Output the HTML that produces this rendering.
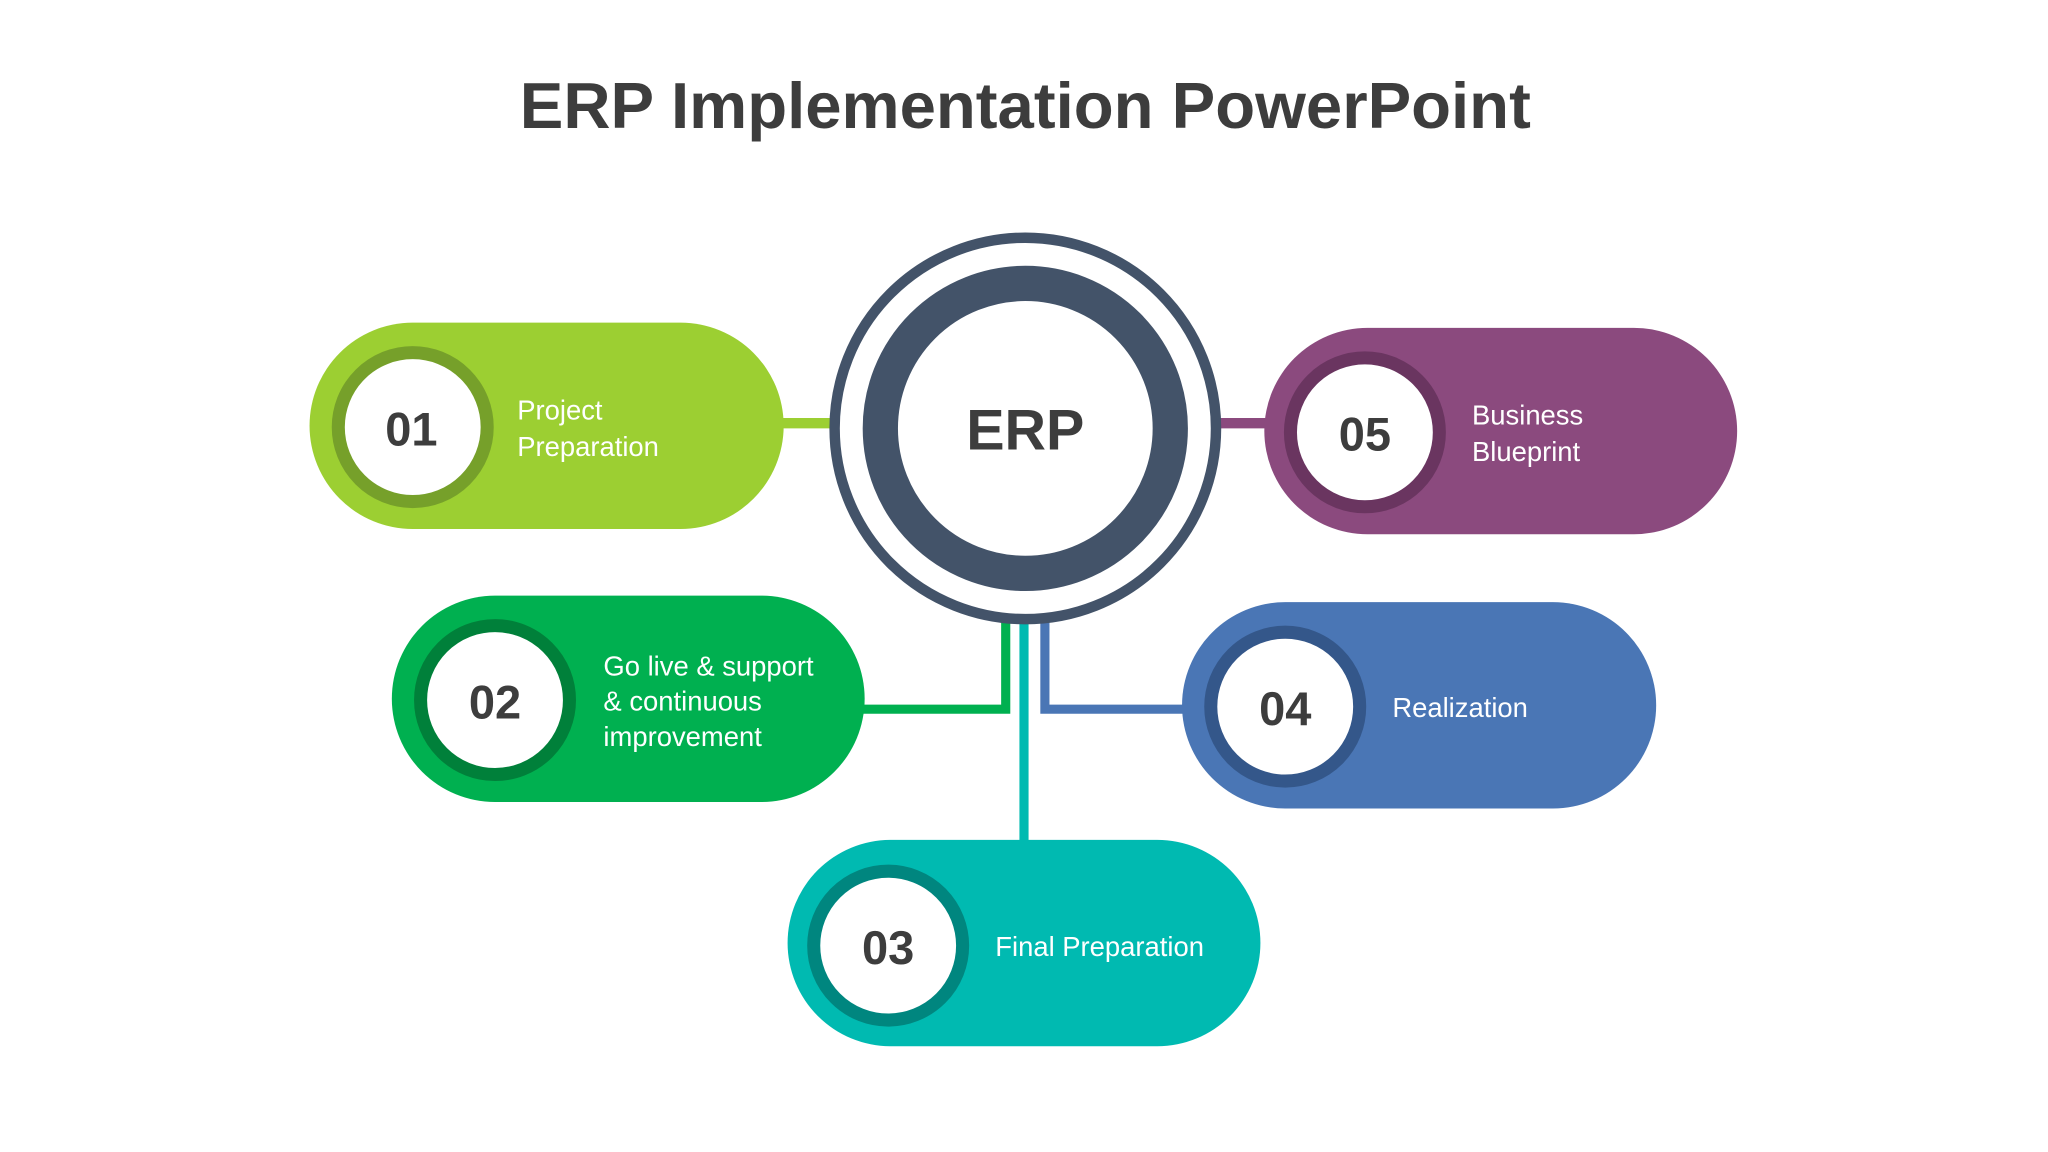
<!DOCTYPE html>
<html><head><meta charset="utf-8"><style>
html,body{margin:0;padding:0;background:#fff;}
svg{display:block;}
text{font-family:"Liberation Sans","DejaVu Sans",sans-serif;}
</style></head><body>
<svg width="2048" height="1152" viewBox="0 0 1568 882" xmlns="http://www.w3.org/2000/svg">
<rect width="1568" height="882" fill="#fff"/>
<text x="785" y="98" text-anchor="middle" font-size="50" font-weight="bold" fill="#3d3d3d">ERP Implementation PowerPoint</text>

<!-- connectors -->
<line x1="595" y1="324" x2="640" y2="324" stroke="#9ccf32" stroke-width="8"/>
<line x1="928" y1="324" x2="972" y2="324" stroke="#8b4a7e" stroke-width="8"/>
<polyline points="660,543 770,543 770,470" fill="none" stroke="#00b050" stroke-width="7"/>
<line x1="784" y1="470" x2="784" y2="648" stroke="#00bab1" stroke-width="7"/>
<polyline points="910,543 800,543 800,470" fill="none" stroke="#4a76b5" stroke-width="7"/>

<!-- center -->
<circle cx="785" cy="328" r="146" fill="#fff" stroke="#435369" stroke-width="8"/>
<circle cx="785" cy="328" r="111" fill="#fff" stroke="#435369" stroke-width="27"/>
<text x="785" y="344" text-anchor="middle" font-size="44" font-weight="bold" fill="#3d3d3d">ERP</text>

<!-- 01 -->
<rect x="237" y="247" width="363" height="158" rx="79" fill="#9ccf32"/>
<circle cx="316" cy="327" r="57" fill="#fff" stroke="#76a02a" stroke-width="10"/>
<text x="315" y="341" text-anchor="middle" font-size="36" font-weight="bold" fill="#3d3d3d">01</text>
<text x="396" y="321" font-size="21" fill="#fff">Project</text>
<text x="396" y="349" font-size="21" fill="#fff">Preparation</text>

<!-- 05 -->
<rect x="968" y="251" width="362" height="158" rx="79" fill="#8b4a7e"/>
<circle cx="1045" cy="331" r="57" fill="#fff" stroke="#6a3560" stroke-width="10"/>
<text x="1045" y="345" text-anchor="middle" font-size="36" font-weight="bold" fill="#3d3d3d">05</text>
<text x="1127" y="325" font-size="21" fill="#fff">Business</text>
<text x="1127" y="353" font-size="21" fill="#fff">Blueprint</text>

<!-- 02 -->
<rect x="300" y="456" width="362" height="158" rx="79" fill="#00b050"/>
<circle cx="379" cy="536" r="57" fill="#fff" stroke="#00803a" stroke-width="10"/>
<text x="379" y="550" text-anchor="middle" font-size="36" font-weight="bold" fill="#3d3d3d">02</text>
<text x="462" y="517" font-size="21" fill="#fff">Go live &amp; support</text>
<text x="462" y="544" font-size="21" fill="#fff">&amp; continuous</text>
<text x="462" y="571" font-size="21" fill="#fff">improvement</text>

<!-- 04 -->
<rect x="905" y="461" width="363" height="158" rx="79" fill="#4a76b5"/>
<circle cx="984" cy="541" r="57" fill="#fff" stroke="#34578a" stroke-width="10"/>
<text x="984" y="555" text-anchor="middle" font-size="36" font-weight="bold" fill="#3d3d3d">04</text>
<text x="1066" y="549" font-size="21" fill="#fff">Realization</text>

<!-- 03 -->
<rect x="603" y="643" width="362" height="158" rx="79" fill="#00bab1"/>
<circle cx="680" cy="724" r="57" fill="#fff" stroke="#00867f" stroke-width="10"/>
<text x="680" y="738" text-anchor="middle" font-size="36" font-weight="bold" fill="#3d3d3d">03</text>
<text x="762" y="732" font-size="21" fill="#fff">Final Preparation</text>
</svg>
</body></html>
